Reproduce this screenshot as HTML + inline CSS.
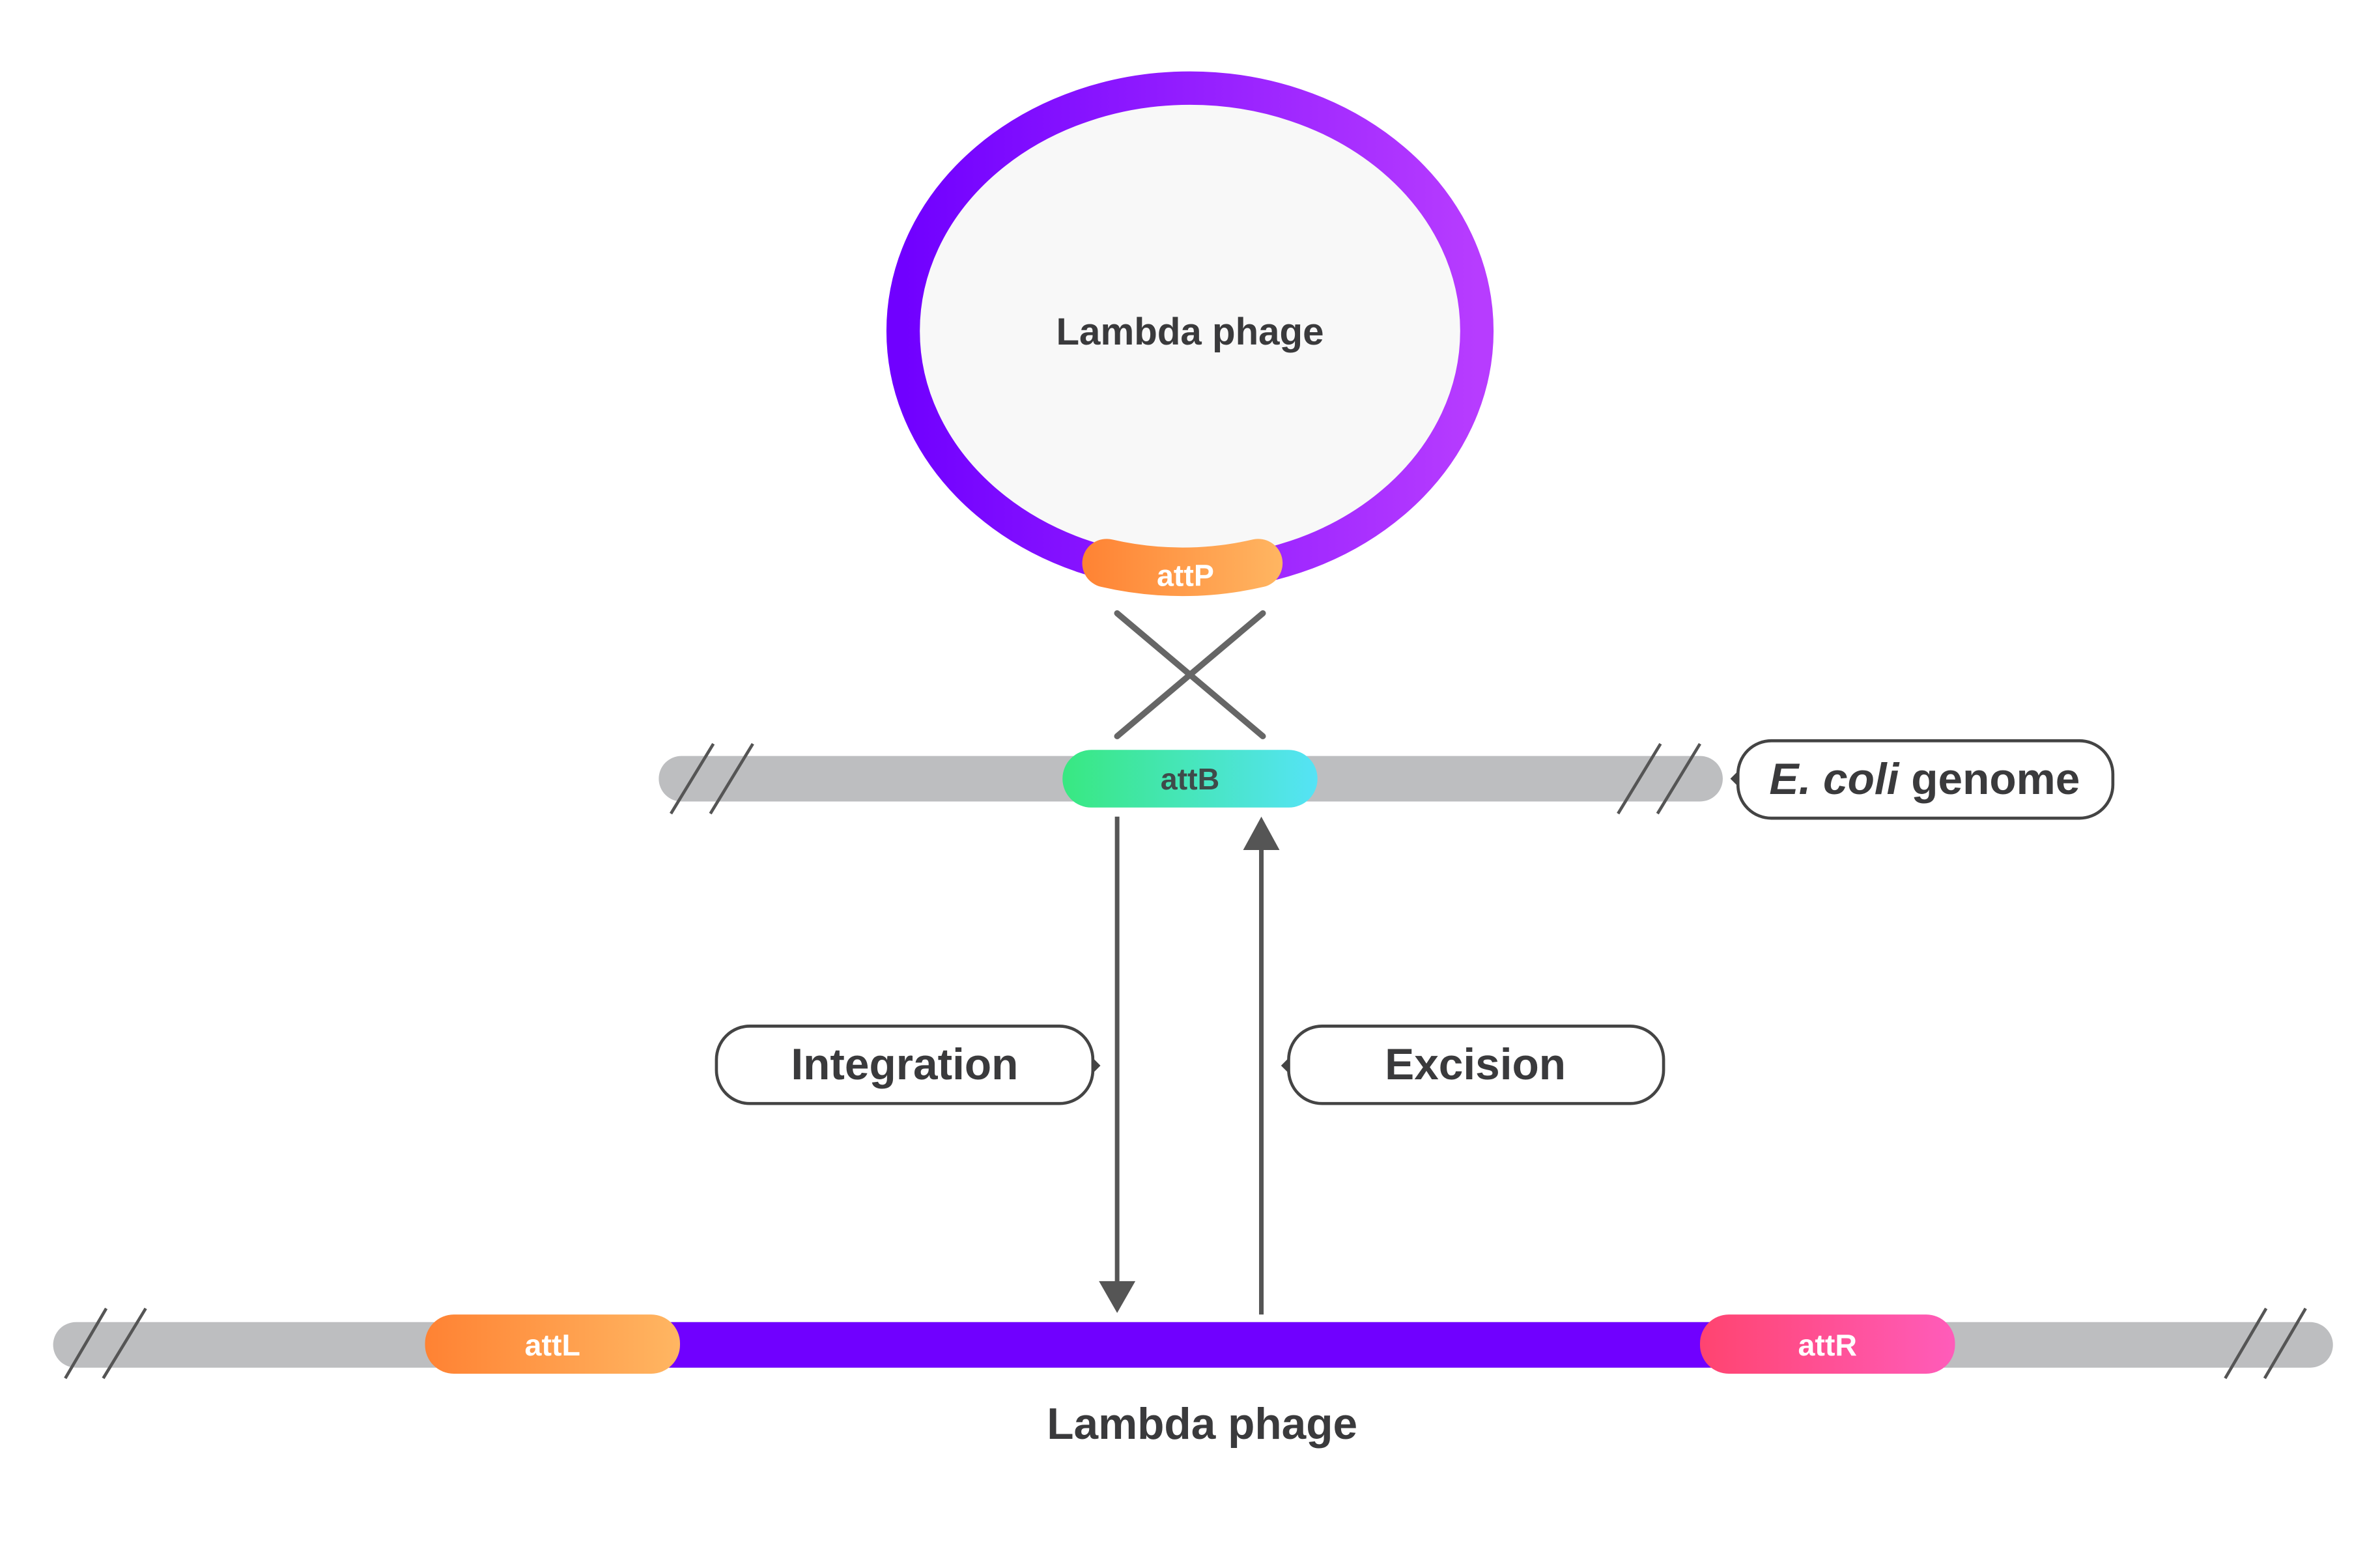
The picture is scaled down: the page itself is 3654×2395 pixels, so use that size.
<!DOCTYPE html>
<html><head><meta charset="utf-8"><style>html,body{margin:0;padding:0;background:#fff}svg{display:block}</style></head>
<body>
<svg width="3654" height="2395" viewBox="0 0 1568 1027.7" xmlns="http://www.w3.org/2000/svg" font-family="Liberation Sans, sans-serif">
<defs>
<linearGradient id="pg" x1="0" x2="1"><stop offset="0" stop-color="#7000ff"/><stop offset="1" stop-color="#b73cff"/></linearGradient>
<linearGradient id="og" gradientUnits="userSpaceOnUse" x1="712" x2="846"><stop offset="0" stop-color="#ff8233"/><stop offset="1" stop-color="#ffb662"/></linearGradient>
<linearGradient id="og2" x1="0" x2="1"><stop offset="0" stop-color="#ff8233"/><stop offset="1" stop-color="#ffb662"/></linearGradient>
<linearGradient id="gg" x1="0" x2="1"><stop offset="0" stop-color="#38e881"/><stop offset="1" stop-color="#55e3f6"/></linearGradient>
<linearGradient id="rg" x1="0" x2="1"><stop offset="0" stop-color="#ff4470"/><stop offset="1" stop-color="#ff5cba"/></linearGradient>
</defs>
<ellipse cx="784" cy="218" rx="189" ry="160" fill="#f8f8f8" stroke="url(#pg)" stroke-width="22"/>
<text x="784" y="227" font-size="25" font-weight="bold" fill="#3a3a3c" text-anchor="middle">Lambda phage</text>
<path d="M729,371 A189,160 0 0 0 829,371" fill="none" stroke="url(#og)" stroke-width="32" stroke-linecap="round"/>
<text x="781" y="386" font-size="20" font-weight="bold" fill="#fff" text-anchor="middle">attP</text>
<g stroke="#666" stroke-width="4" stroke-linecap="round">
<line x1="736" y1="404" x2="832" y2="485"/><line x1="832" y1="404" x2="736" y2="485"/>
</g>
<line x1="449" y1="513" x2="1120" y2="513" stroke="#bdbec0" stroke-width="30" stroke-linecap="round"/>
<rect x="700" y="494" width="168" height="38" rx="19" fill="url(#gg)"/>
<text x="784" y="520" font-size="20" font-weight="bold" fill="#3f4a4a" text-anchor="middle">attB</text>
<g stroke="#555" stroke-width="2">
<line x1="470" y1="490" x2="442" y2="536"/><line x1="496" y1="490" x2="468" y2="536"/>
<line x1="1094" y1="490" x2="1066" y2="536"/><line x1="1120" y1="490" x2="1092" y2="536"/>
</g>
<rect x="1145" y="488" width="247" height="51" rx="22" fill="#fff" stroke="#444" stroke-width="2"/>
<path d="M1145,508 L1140,513 L1145,518 Z" fill="#444"/>
<text x="1268" y="523" font-size="29" font-weight="bold" fill="#3a3a3c" text-anchor="middle"><tspan font-style="italic">E. coli</tspan> genome</text>
<g stroke="#555" stroke-width="3">
<line x1="736" y1="538" x2="736" y2="846"/><line x1="831" y1="558" x2="831" y2="866"/>
</g>
<path d="M724,844 L748,844 L736,865 Z" fill="#555"/>
<path d="M819,560 L843,560 L831,538 Z" fill="#555"/>
<rect x="472" y="676" width="248" height="51" rx="22" fill="#fff" stroke="#444" stroke-width="2"/>
<path d="M720,697 L725,702 L720,707 Z" fill="#444"/>
<text x="596" y="711" font-size="29" font-weight="bold" fill="#3a3a3c" text-anchor="middle">Integration</text>
<rect x="849" y="676" width="247" height="51" rx="22" fill="#fff" stroke="#444" stroke-width="2"/>
<path d="M849,697 L844,702 L849,707 Z" fill="#444"/>
<text x="972" y="711" font-size="29" font-weight="bold" fill="#3a3a3c" text-anchor="middle">Excision</text>
<line x1="50" y1="886" x2="1522" y2="886" stroke="#bdbec0" stroke-width="30" stroke-linecap="round"/>
<rect x="430" y="871" width="710" height="30" fill="#7000ff"/>
<rect x="280" y="866" width="168" height="39" rx="19" fill="url(#og2)"/>
<text x="364" y="893" font-size="20" font-weight="bold" fill="#fff" text-anchor="middle">attL</text>
<rect x="1120" y="866" width="168" height="39" rx="19" fill="url(#rg)"/>
<text x="1204" y="893" font-size="20" font-weight="bold" fill="#fff" text-anchor="middle">attR</text>
<g stroke="#555" stroke-width="2">
<line x1="70" y1="862" x2="43" y2="908"/><line x1="96" y1="862" x2="68" y2="908"/>
<line x1="1493" y1="862" x2="1466" y2="908"/><line x1="1519" y1="862" x2="1492" y2="908"/>
</g>
<text x="792" y="948" font-size="29" font-weight="bold" fill="#3a3a3c" text-anchor="middle">Lambda phage</text>
</svg>
</body></html>
